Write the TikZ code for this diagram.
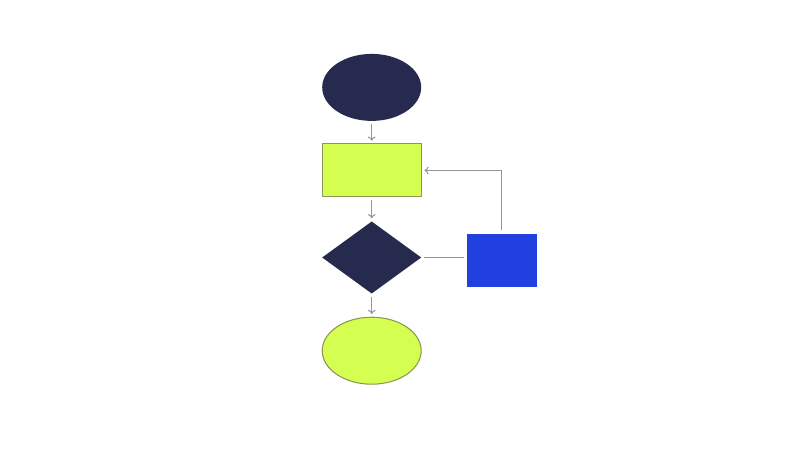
\documentclass[tikz,border=0pt]{standalone}
\usetikzlibrary{arrows.meta,shapes.geometric}

\definecolor{navy}{RGB}{38,42,78}
\definecolor{lime}{RGB}{212,255,80}
\definecolor{olive}{RGB}{140,150,80}
\definecolor{brightblue}{RGB}{33,64,224}
\definecolor{linegray}{RGB}{150,150,150}

\begin{document}
\begin{tikzpicture}[
    every node/.style={inner sep=0pt, outer sep=0pt},
    darkoval/.style={ellipse, fill=navy, minimum width=0.99cm, minimum height=0.67cm},
    limeoval/.style={ellipse, fill=lime, draw=olive, line width=0.3pt, minimum width=0.99cm, minimum height=0.67cm},
    limebox/.style={rectangle, fill=lime, draw=olive, line width=0.3pt, minimum width=0.99cm, minimum height=0.53cm},
    darkdiamond/.style={diamond, fill=navy, minimum width=0.99cm, minimum height=0.72cm},
    bluebox/.style={rectangle, fill=brightblue, minimum width=0.70cm, minimum height=0.53cm},
    link/.style={linegray, line width=0.3pt, shorten <=0.9pt, shorten >=0.9pt},
    arrow/.style={link, -{To[length=1.2pt,width=2.2pt]}}
  ]
          % Fix the frame
          \useasboundingbox (0,0) rectangle (8,4.5);

          % Define positions
          \coordinate (S) at (3.717,3.626);
          \coordinate (P) at (3.717,2.796);
          \coordinate (C) at (3.717,1.925);
          \coordinate (E) at (3.717,0.993);
          \coordinate (U) at (5.017,1.900);

          % Draw shapes
          \node[darkoval] (start) at (S) {};
          \node[limebox] (process) at (P) {};
          \node[darkdiamond] (check) at (C) {};
          \node[limeoval] (stop) at (E) {};
          \node[bluebox] (update) at (U) {};

          % Draw links
          \draw[arrow] (start) -- (process);
          \draw[arrow] (process) -- (check);
          \draw[arrow] (check) -- (stop);
          \draw[link] (check.east) -- (check.east -| update.west);
          \draw[arrow] (update.north) |- (process.east);
        \end{tikzpicture}
\end{document}
